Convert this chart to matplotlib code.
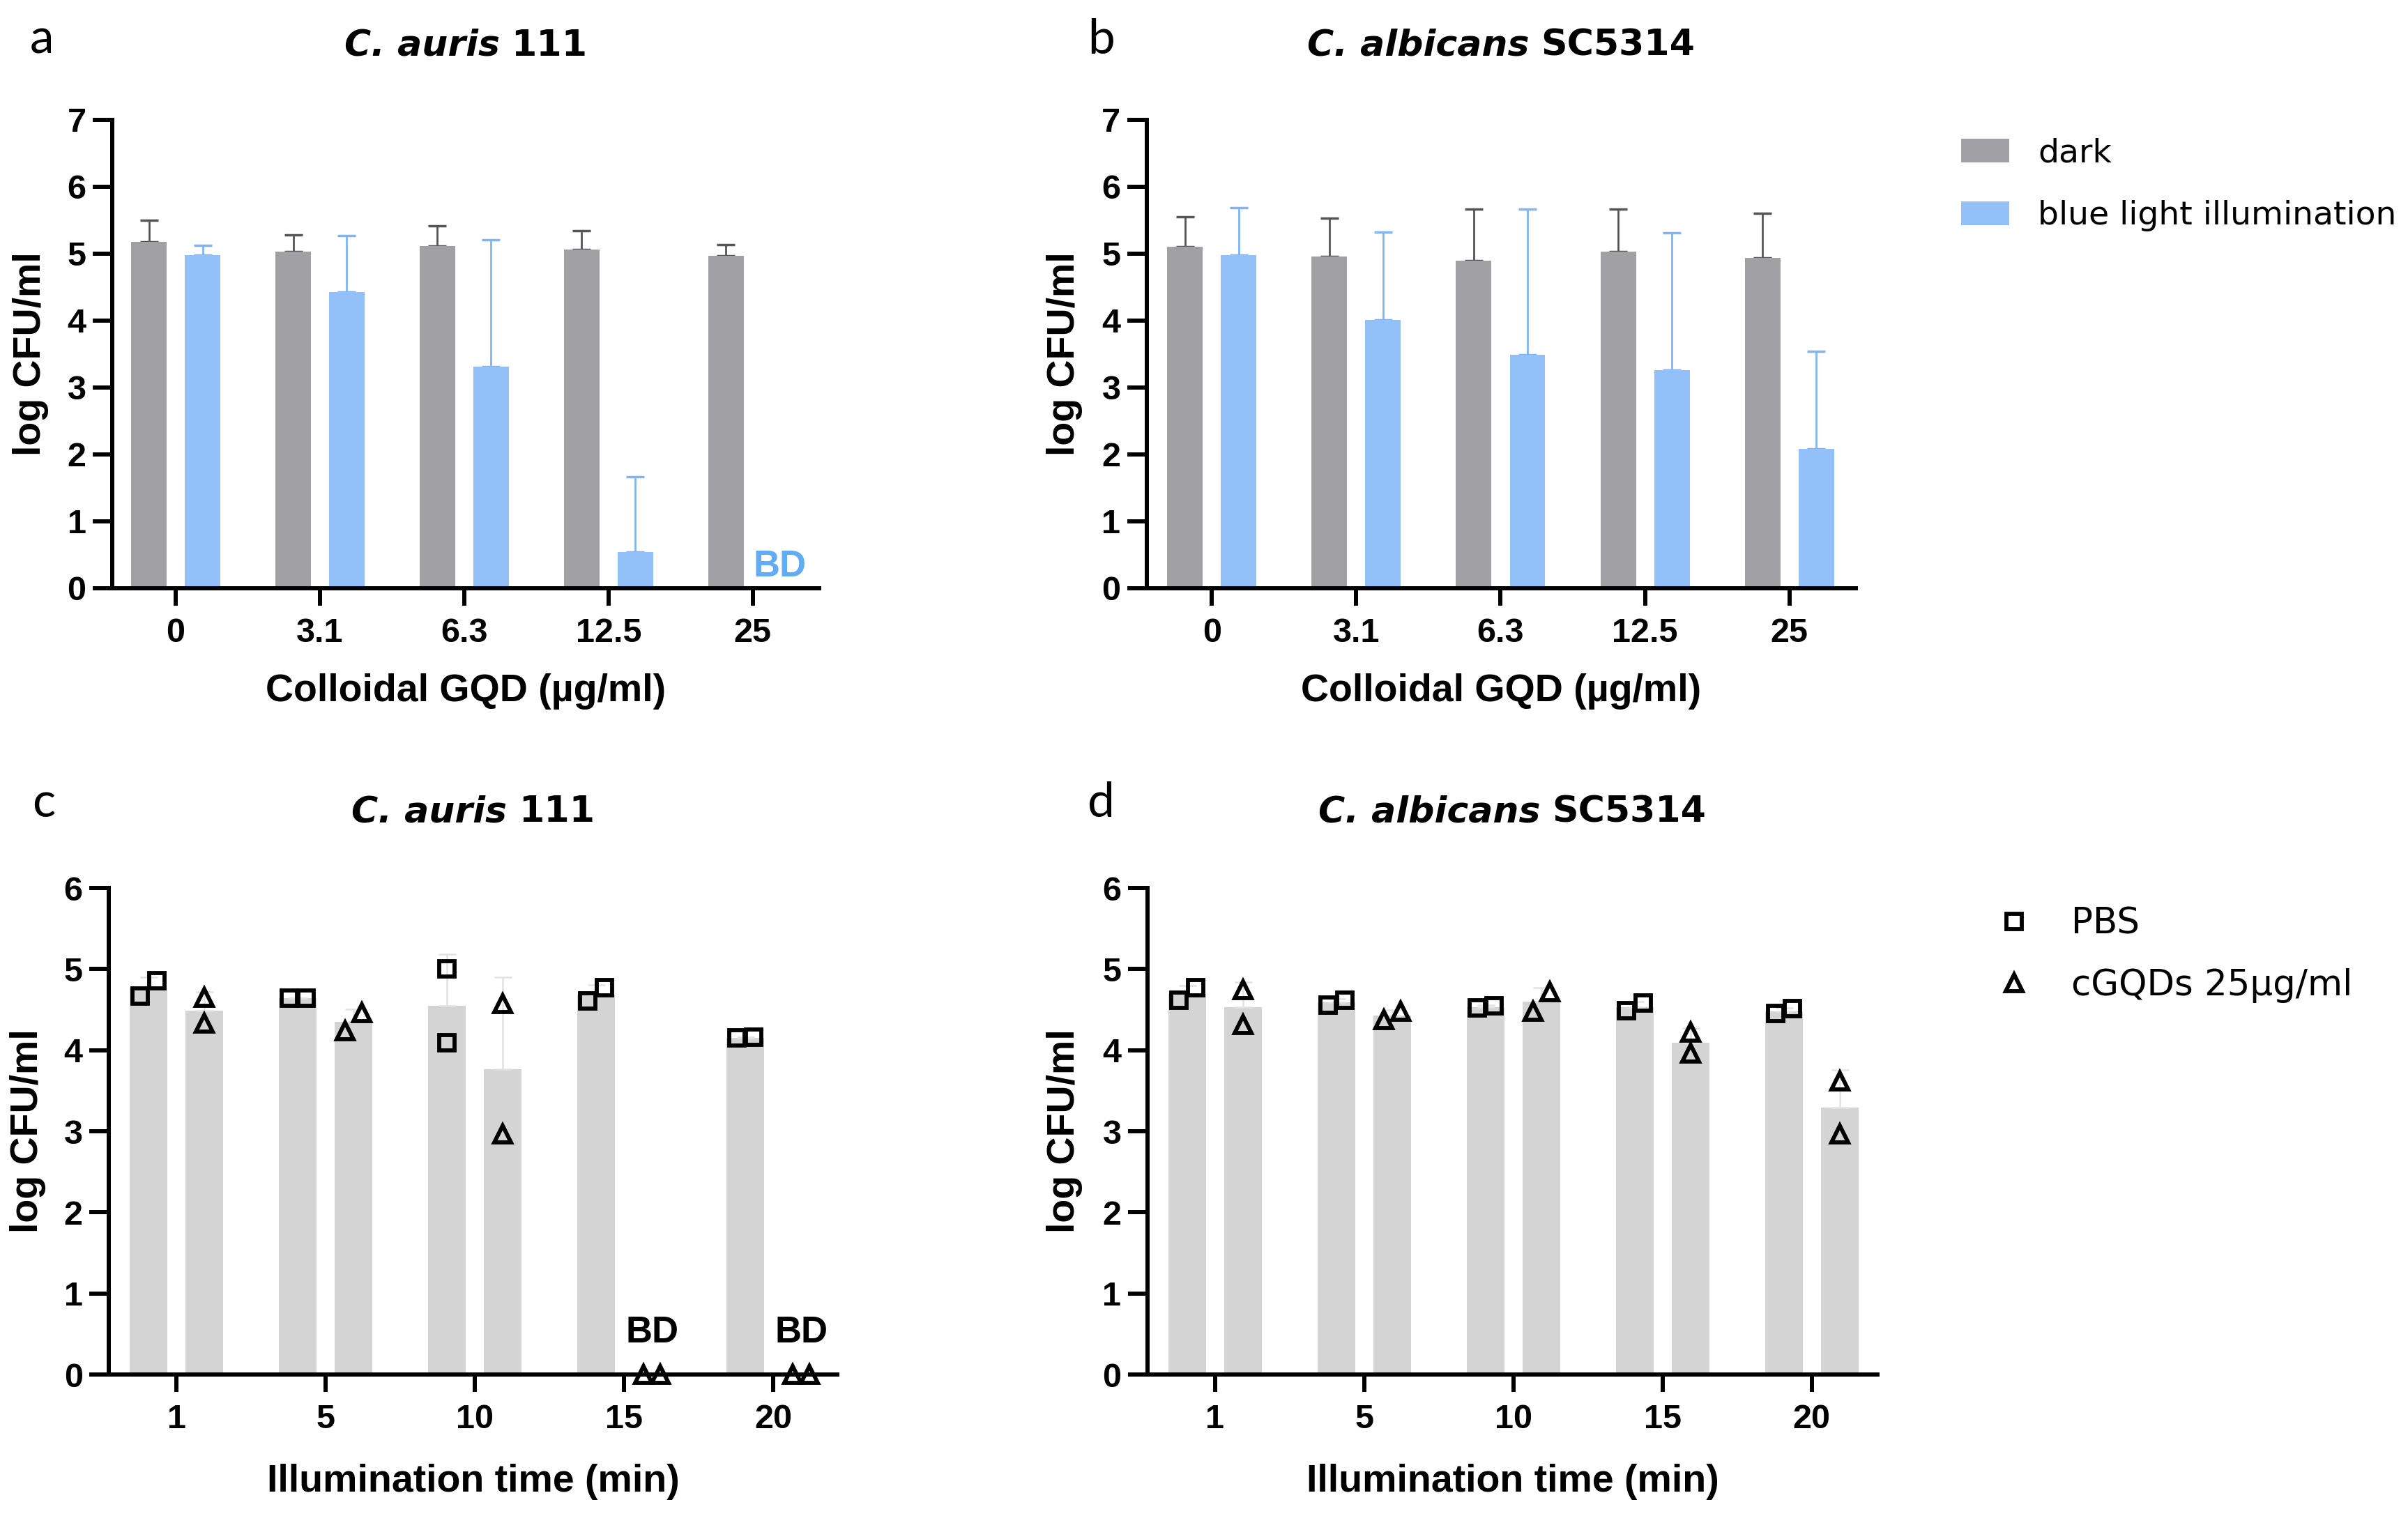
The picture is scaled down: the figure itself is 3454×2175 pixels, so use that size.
import numpy as np
import matplotlib
matplotlib.use("Agg")
import matplotlib.pyplot as plt
from matplotlib.patches import Patch
from matplotlib.lines import Line2D
from matplotlib.offsetbox import TextArea, HPacker, AnchoredOffsetbox

# ---------------- data ----------------
conc_labels = ["0", "3.1", "6.3", "12.5", "25"]
time_labels = ["1", "5", "10", "15", "20"]

a_dark = [5.18, 5.03, 5.11, 5.06, 4.97]
a_dark_sd = [0.32, 0.25, 0.31, 0.28, 0.16]
a_blue = [4.98, 4.43, 3.31, 0.54, 0.0]
a_blue_sd = [0.14, 0.84, 1.90, 1.13, 0.0]
a_blue_bd = [False, False, False, False, True]

b_dark = [5.10, 4.96, 4.89, 5.03, 4.94]
b_dark_sd = [0.45, 0.57, 0.78, 0.64, 0.66]
b_blue = [4.98, 4.01, 3.49, 3.26, 2.08]
b_blue_sd = [0.71, 1.31, 2.18, 2.05, 1.46]
b_blue_bd = [False, False, False, False, False]

c_pbs = [[4.67, 4.86], [4.64, 4.64], [5.00, 4.09], [4.61, 4.77], [4.15, 4.16]]
c_cgqd = [[4.65, 4.33], [4.24, 4.46], [4.57, 2.97], [0.0, 0.0], [0.0, 0.0]]
c_cgqd_bd = [False, False, False, True, True]

d_pbs = [[4.62, 4.77], [4.56, 4.62], [4.52, 4.55], [4.49, 4.58], [4.45, 4.51]]
d_cgqd = [[4.75, 4.32], [4.38, 4.48], [4.48, 4.72], [4.22, 3.96], [3.62, 2.97]]
d_cgqd_bd = [False, False, False, False, False]

# ---------------- style ----------------
GRAY = "#a1a1a5"
BLUE = "#93c0f8"
GRAY_ERR = "#555555"
BLUE_ERR = "#7fb5f6"
LIGHT_BAR = "#d4d4d4"
LIGHT_ERR = "#e2e2e2"
ARIAL = "Liberation Sans"
DEJA = "DejaVu Sans"
SPINE_LW = 4.3

fig = plt.figure(figsize=(34.55, 21.75), dpi=100)


def style_axes(ax, labels, xlim, ymax, xlabel, ylab_x, xlab_y):
    for s in ("top", "right"):
        ax.spines[s].set_visible(False)
    for s in ("left", "bottom"):
        ax.spines[s].set_linewidth(SPINE_LW)
    ax.set_xlim(*xlim)
    ax.set_ylim(0, ymax)
    ax.set_xticks(np.arange(len(labels)))
    ax.set_xticklabels(labels)
    ax.set_yticks(np.arange(0, ymax + 1))
    ax.tick_params(axis="x", length=18, width=SPINE_LW, pad=12, labelsize=35)
    ax.tick_params(axis="y", length=20, width=SPINE_LW, pad=7, labelsize=35)
    for t in ax.get_xticklabels() + ax.get_yticklabels():
        t.set_fontfamily(ARIAL)
        t.set_fontweight("bold")
    ax.set_ylabel("log CFU/ml", fontsize=40, fontweight="bold", family=ARIAL)
    ax.yaxis.set_label_coords(ylab_x, 0.5)
    ax.yaxis.label.set_verticalalignment("center")
    ax.set_xlabel(xlabel, fontsize=40, fontweight="bold", family=ARIAL)
    ax.xaxis.set_label_coords(0.5, xlab_y)
    ax.xaxis.label.set_verticalalignment("center")


def add_title(ax, ital, plain, ypos):
    t1 = TextArea(ital, textprops=dict(fontsize=37.5, family=DEJA, fontweight="bold", style="italic"))
    t2 = TextArea(plain, textprops=dict(fontsize=37.5, family=DEJA, fontweight="bold"))
    box = HPacker(children=[t1, t2], align="baseline", pad=0, sep=12)
    anch = AnchoredOffsetbox(loc="center", child=box, pad=0, frameon=False,
                             bbox_to_anchor=(0.5, ypos), bbox_transform=ax.transAxes,
                             borderpad=0)
    ax.add_artist(anch)


def bar_panel(ax, dark, dark_sd, blue, blue_sd, blue_bd):
    x = np.arange(len(dark))
    w = 0.246
    off = 0.186
    ax.bar(x - off, dark, w, color=GRAY, zorder=2)
    ax.errorbar(x - off, dark, yerr=[np.zeros(len(dark)), dark_sd], fmt="none",
                ecolor=GRAY_ERR, elinewidth=2.0, capsize=9.5, capthick=2.5, zorder=1)
    bd = np.array(blue_bd)
    bx = x[~bd] + off
    bv = np.array(blue)[~bd]
    bs = np.array(blue_sd)[~bd]
    ax.bar(bx, bv, w, color=BLUE, zorder=2)
    ax.errorbar(bx, bv, yerr=[np.zeros(len(bv)), bs], fmt="none",
                ecolor=BLUE_ERR, elinewidth=2.0, capsize=9.5, capthick=2.5, zorder=1)
    for xi in x[bd] + off:
        ax.text(xi, 0.06, "BD", color="#62acf5", fontsize=38, fontweight="bold",
                family=ARIAL, ha="center", va="bottom")


def spread(vals, thr=0.25, dx=0.056):
    v = np.asarray(vals, dtype=float)
    if len(v) == 2 and abs(v[0] - v[1]) < thr:
        order = np.argsort(v, kind="stable")
        offs = np.zeros(2)
        offs[order[0]] = -dx
        offs[order[1]] = dx
        return offs
    return np.zeros(len(v))


def point_panel(ax, pbs, cg, cg_bd):
    n = len(pbs)
    x = np.arange(n)
    w = 0.252
    off = 0.187
    for grp, sign, marker, ms, bdflags in ((pbs, -1, "s", 16, [False] * n), (cg, 1, "^", 17.5, cg_bd)):
        for i in range(n):
            xc = x[i] + sign * off
            vals = np.array(grp[i], dtype=float)
            if not bdflags[i]:
                m = vals.mean()
                sd = vals.std(ddof=1)
                ax.bar(xc, m, w, color=LIGHT_BAR, zorder=1)
                ax.errorbar([xc], [m], yerr=[[0], [sd]], fmt="none", ecolor=LIGHT_ERR,
                            elinewidth=1.8, capsize=9, capthick=1.8, zorder=1.5)
            else:
                ax.text(xc, 0.3, "BD", color="black", fontsize=38, fontweight="bold",
                        family=ARIAL, ha="center", va="bottom")
            ax.plot(xc + spread(vals), vals, linestyle="none", marker=marker,
                    markersize=ms, markeredgewidth=4.2, markeredgecolor="black",
                    fillstyle="none", clip_on=False, zorder=4)


# ---------------- panels ----------------
ax_a = fig.add_axes([0.0466, 0.6120, 0.2935, 0.3090])
ax_b = fig.add_axes([0.4761, 0.6120, 0.2944, 0.3090])
ax_c = fig.add_axes([0.0452, 0.0933, 0.3025, 0.3209])
ax_d = fig.add_axes([0.4764, 0.0933, 0.3030, 0.3209])

bar_panel(ax_a, a_dark, a_dark_sd, a_blue, a_blue_sd, a_blue_bd)
bar_panel(ax_b, b_dark, b_dark_sd, b_blue, b_blue_sd, b_blue_bd)
point_panel(ax_c, c_pbs, c_cgqd, c_cgqd_bd)
point_panel(ax_d, d_pbs, d_cgqd, d_cgqd_bd)

style_axes(ax_a, conc_labels, (-0.44, 4.46), 7, "Colloidal GQD (\u00b5g/ml)", -0.115, -0.220)
style_axes(ax_b, conc_labels, (-0.45, 4.46), 7, "Colloidal GQD (\u00b5g/ml)", -0.116, -0.220)
style_axes(ax_c, time_labels, (-0.453, 4.43), 6, "Illumination time (min)", -0.111, -0.221)
style_axes(ax_d, time_labels, (-0.453, 4.44), 6, "Illumination time (min)", -0.114, -0.221)

add_title(ax_a, "C. auris", "111", 1.158)
add_title(ax_b, "C. albicans", "SC5314", 1.158)
add_title(ax_c, "C. auris", "111", 1.156)
add_title(ax_d, "C. albicans", "SC5314", 1.156)

# panel letters
for lx, ly, s in ((0.0124, 0.9646, "a"), (0.4515, 0.9646, "b"),
                  (0.0133, 0.4612, "c"), (0.4515, 0.4612, "d")):
    fig.text(lx, ly, s, fontsize=50, family="Lato", ha="left", va="baseline")

# legends
leg1 = ax_b.legend(handles=[Patch(facecolor=GRAY, edgecolor="none", label="dark"),
                            Patch(facecolor=BLUE, edgecolor="none", label="blue light illumination")],
                   loc="upper left", bbox_to_anchor=(0.8142, 0.909), bbox_transform=fig.transFigure,
                   frameon=False, borderpad=0, borderaxespad=0,
                   prop=dict(family=DEJA, size=34),
                   handlelength=1.47, handleheight=0.73, handletextpad=0.86, labelspacing=0.94)

leg2 = ax_d.legend(handles=[Line2D([], [], linestyle="none", marker="s", markersize=16,
                                   markeredgewidth=4.2, markeredgecolor="black", fillstyle="none", label="PBS"),
                            Line2D([], [], linestyle="none", marker="^", markersize=17.5,
                                   markeredgewidth=4.2, markeredgecolor="black", fillstyle="none",
                                   label="cGQDs 25\u00b5g/ml")],
                   loc="upper left", bbox_to_anchor=(0.8287, 0.402), bbox_transform=fig.transFigure,
                   frameon=False, borderpad=0, borderaxespad=0, numpoints=1,
                   prop=dict(family=DEJA, size=37),
                   handlelength=1.0, handletextpad=1.1, labelspacing=0.75)

fig.savefig("out.png", dpi=100)
